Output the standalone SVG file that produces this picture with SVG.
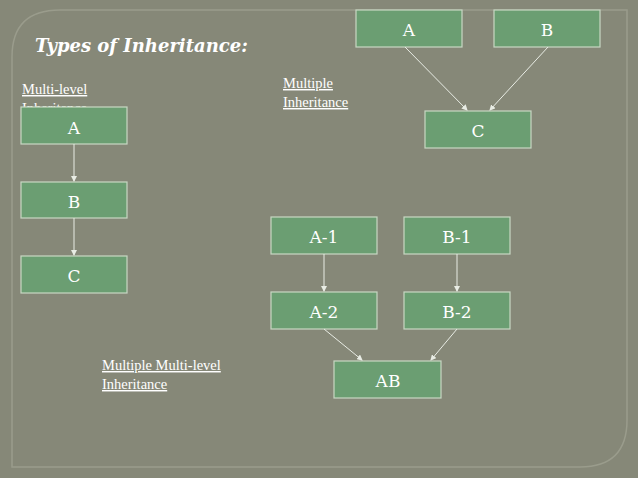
<svg xmlns="http://www.w3.org/2000/svg" width="638" height="478" viewBox="0 0 638 478">
<style>
.n{fill:#6b9e72;stroke:#c8d8c4;stroke-width:1.2}
.t{font-family:"DejaVu Serif","Liberation Serif",serif;font-size:17px;fill:#fff;text-anchor:middle}
.l{font-family:"Liberation Serif",serif;font-size:14.5px;fill:#fff;text-decoration:underline}
.c{stroke:#e8ece4;stroke-width:1;fill:none;marker-end:url(#ah)}
</style>
<defs><marker id="ah" markerWidth="6" markerHeight="6" refX="5" refY="3" orient="auto"><path d="M0,0L6,3L0,6z" fill="#e8ece4"/></marker></defs>
<rect width="638" height="478" fill="#868878"/>
<path d="M60,10H627V420Q627,467 580,467H12V57Q12,10 60,10Z" fill="none" stroke="#9a9c8c" stroke-width="1.5"/>
<text x="35" y="52" font-family="DejaVu Serif,serif" font-weight="bold" font-style="italic" font-size="18" fill="#fff">Types of Inheritance:</text>
<text class="l" x="22" y="94">Multi-level</text>
<text class="l" x="22" y="113">Inheritance</text>
<text class="l" x="283" y="88">Multiple</text>
<text class="l" x="283" y="107">Inheritance</text>
<text class="l" x="102" y="370">Multiple Multi-level</text>
<text class="l" x="102" y="389">Inheritance</text>
<g id="mA"><rect class="n" x="21" y="107" width="106" height="37"/><text class="t" x="74" y="134">A</text></g>
<g id="mB"><rect class="n" x="21" y="182" width="106" height="36"/><text class="t" x="74" y="208">B</text></g>
<g id="mC"><rect class="n" x="21" y="256" width="106" height="37"/><text class="t" x="74" y="282">C</text></g>
<g id="pA"><rect class="n" x="356" y="10" width="106" height="37"/><text class="t" x="409" y="36">A</text></g>
<g id="pB"><rect class="n" x="494" y="10" width="106" height="37"/><text class="t" x="547" y="36">B</text></g>
<g id="pC"><rect class="n" x="425" y="111" width="106" height="37"/><text class="t" x="478" y="137">C</text></g>
<g id="A1"><rect class="n" x="271" y="217" width="106" height="37"/><text class="t" x="324" y="243">A-1</text></g>
<g id="B1"><rect class="n" x="404" y="217" width="106" height="37"/><text class="t" x="457" y="243">B-1</text></g>
<g id="A2"><rect class="n" x="271" y="292" width="106" height="37"/><text class="t" x="324" y="318">A-2</text></g>
<g id="B2"><rect class="n" x="404" y="292" width="106" height="37"/><text class="t" x="457" y="318">B-2</text></g>
<g id="AB"><rect class="n" x="334" y="361" width="107" height="37"/><text class="t" x="388" y="387">AB</text></g>
<g id="connectors">
<line class="c" x1="74" y1="144" x2="74" y2="181"/>
<line class="c" x1="74" y1="218" x2="74" y2="255"/>
<line class="c" x1="405" y1="47" x2="467" y2="110"/>
<line class="c" x1="548" y1="47" x2="490" y2="110"/>
<line class="c" x1="324" y1="254" x2="324" y2="291"/>
<line class="c" x1="457" y1="254" x2="457" y2="291"/>
<line class="c" x1="324" y1="329" x2="362" y2="360"/>
<line class="c" x1="457" y1="329" x2="431" y2="360"/>
</g>
</svg>
